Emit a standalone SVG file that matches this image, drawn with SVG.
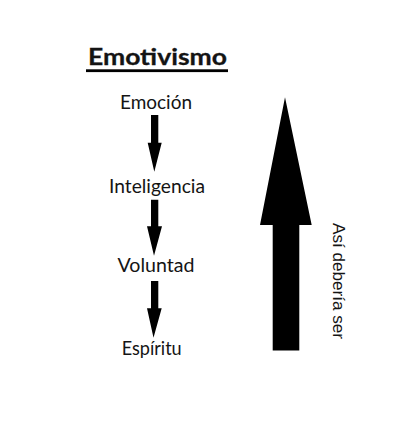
<svg xmlns="http://www.w3.org/2000/svg" width="417" height="431" viewBox="0 0 417 431">
<style>
.lbl{font-family:Lato,"Open Sans","Liberation Sans",sans-serif;font-size:18.5px;fill:#141414;text-anchor:middle}
.title{font-family:Lato,"Open Sans","Liberation Sans",sans-serif;font-size:23.5px;font-weight:bold;fill:#141414;stroke:#141414;stroke-width:0.3;text-anchor:middle}
.side{font-family:"Liberation Sans",Arial,sans-serif;font-size:17px;fill:#141414}
.arr{fill:#000}
</style>
<rect width="417" height="431" fill="#fff"/>
<g id="title">
<text class="title" x="157.5" y="65" textLength="139" lengthAdjust="spacingAndGlyphs">Emotivismo</text>
<rect x="86" y="69.3" width="142" height="2.8" fill="#000"/>
</g>
<g id="emocion"><text class="lbl" x="156" y="108.5" textLength="72" lengthAdjust="spacingAndGlyphs">Emoción</text></g>
<g id="inteligencia"><text class="lbl" x="157" y="192.7" textLength="96" lengthAdjust="spacingAndGlyphs">Inteligencia</text></g>
<g id="voluntad"><text class="lbl" x="156" y="272" textLength="77" lengthAdjust="spacingAndGlyphs">Voluntad</text></g>
<g id="espiritu"><text class="lbl" x="151.7" y="355" textLength="60" lengthAdjust="spacingAndGlyphs">Espíritu</text></g>
<g id="connectors">
<polygon class="arr" points="151,115 158.3,115 158.3,142.7 161.7,142.7 154.3,171.7 147.7,142.7 151,142.7"/>
<polygon class="arr" points="151,199.7 158.3,199.7 158.3,226.3 162,226.3 154,255.7 147,226.3 151,226.3"/>
<polygon class="arr" points="151,281 158.3,281 158.3,308.3 161.7,308.3 153.5,337.7 147,308.3 151,308.3"/>
<polygon class="arr" points="285,97.3 311.7,225 299.3,225 299.3,350.5 272.7,350.5 272.7,225 260,225"/>
</g>
<g id="asi-deberia-ser">
<text class="side" x="333" y="223" transform="rotate(90 333 223)" textLength="116" lengthAdjust="spacingAndGlyphs">Así debería ser</text>
</g>
</svg>
